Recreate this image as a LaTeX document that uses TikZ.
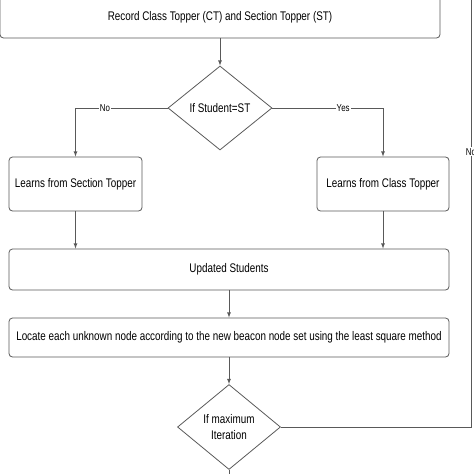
\documentclass[tikz,border=0pt]{standalone}
\usepackage{fontspec}
\setmainfont[FakeStretch=0.79]{Liberation Sans}
\usepackage{tikz}
\usetikzlibrary{shapes.geometric}
\usetikzlibrary{calc}
\tikzset{>=latex}
\colorlet{linegray}{black!65}
\tikzset{
  stepbox/.style={draw=linegray, thick, rounded corners=3.5pt, align=center, font=\fontsize{12.5}{14}\selectfont, inner sep=2pt},
  choice/.style={draw=linegray, thick, diamond, align=center, font=\fontsize{12.5}{16}\selectfont, inner sep=0pt},
  flow/.style={->, draw=linegray, thick},
  tag/.style={fill=white, inner sep=1pt, font=\fontsize{10}{11}\selectfont}
}

\begin{document}
\begin{tikzpicture}[x=1pt,y=-1pt]
  \useasboundingbox (0,0) rectangle (474,474);
  \clip (0,0) rectangle (474,474);
  \node[stepbox, minimum width=440pt, minimum height=42pt] (rec) at (220,17) {Record Class Topper (CT) and Section Topper (ST)};
  \node[choice, minimum width=104pt, minimum height=84pt] (st) at (220,108) {If Student=ST};
  \node[stepbox, minimum width=133pt, minimum height=54pt] (sec) at (75.5,184) {Learns from Section Topper};
  \node[stepbox, minimum width=132pt, minimum height=54pt] (cls) at (383,184) {Learns from Class Topper};
  \node[stepbox, minimum width=440pt, minimum height=41pt] (upd) at (229,269.5) {Updated Students};
  \node[stepbox, minimum width=440pt, minimum height=39pt] (loc) at (229,337.5) {Locate each unknown node according to the new beacon node set using the least square method};
  \node[choice, minimum width=103pt, minimum height=85pt] (iter) at (229,427) {If maximum\\Iteration};
  \coordinate (down) at (229,490);
  \coordinate (back) at (471,-10);

  \draw[flow] (rec.south) -- (st.north);
  \draw[flow] (st.west) -- node[tag, pos=0.68] {No} (sec.north |- st.west) -- (sec.north);
  \draw[flow] (st.east) -- node[tag, pos=0.64] {Yes} (cls.north |- st.east) -- (cls.north);
  \draw[flow] (sec.south) -- (sec.south |- upd.north);
  \draw[flow] (cls.south) -- (cls.south |- upd.north);
  \draw[flow] (upd.south) -- (loc.north);
  \draw[flow] (loc.south) -- (iter.north);
  \draw[draw=linegray, thick] (iter.south) -- (down);
  \draw[draw=linegray, thick] (iter.east) -- (back |- iter.east) -- node[tag, pos=0.63] {No} (back);
\end{tikzpicture}
\end{document}
